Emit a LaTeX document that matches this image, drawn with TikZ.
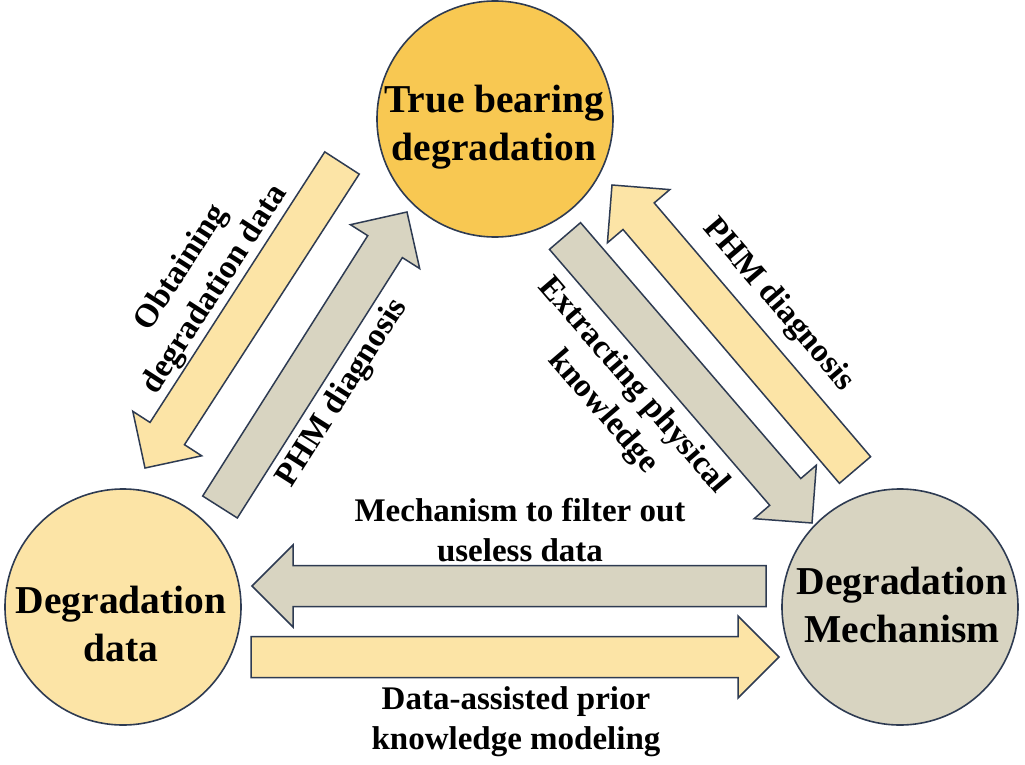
\documentclass[tikz,border=0pt]{standalone}
\usepackage{fontspec}
\setmainfont{Liberation Serif}
\usetikzlibrary{calc}
\definecolor{gold}{HTML}{F8C852}
\definecolor{lightyel}{HTML}{FCE4A6}
\definecolor{greybeige}{HTML}{D8D4C1}
\definecolor{edgecol}{HTML}{2E3B52}
% #1 style, #2 tail coordinate, #3 tip coordinate
\newcommand{\blockarrow}[3]{%
  \coordinate (bh) at ($(#3)!41pt!(#2)$);
  \draw[#1] ($(#2)!20.5pt!90:(#3)$) -- ($(bh)!20.5pt!90:(#3)$) -- ($(bh)!41pt!90:(#3)$) -- (#3)
    -- ($(bh)!41pt!-90:(#3)$) -- ($(bh)!20.5pt!-90:(#3)$) -- ($(#2)!20.5pt!-90:(#3)$) -- cycle;
}
\begin{document}
\begin{tikzpicture}[x=1pt,y=-1pt,
  ball/.style={circle, draw=edgecol, line width=1.6pt, minimum size=236pt, inner sep=0pt},
  bigtext/.style={align=center, inner sep=0pt, font=\fontsize{39.5}{48}\selectfont\bfseries},
  lbltext/.style={align=center, inner sep=0pt, font=\fontsize{33}{40}\selectfont\bfseries},
  yarrow/.style={draw=edgecol, line width=1.5pt, line join=miter, fill=lightyel},
  garrow/.style={draw=edgecol, line width=1.5pt, line join=miter, fill=greybeige}]
\useasboundingbox (0,0) rectangle (1025,765);
\fill[white] (0,0) rectangle (1025,765);

% circles
\node[ball, fill=gold] (truth) at (495,119) {};
\node[ball, fill=lightyel] (data) at (123,607) {};
\node[ball, fill=greybeige] (mech) at (900,607) {};

\node[bigtext] (truthtxt) at (494,127) {True bearing\\degradation};
\node[bigtext] (datatxt) at (121,624) {Degradation\\data};
\node[bigtext] (mechtxt) at (902,605) {Degradation\\Mechanism};

% arrow end points
\coordinate (a1t) at (342,163); \coordinate (a1h) at (145,468);
\coordinate (a2t) at (220,507); \coordinate (a2h) at (407,212);
\coordinate (a3t) at (565,236); \coordinate (a3h) at (812,523);
\coordinate (a4t) at (855,470); \coordinate (a4h) at (612,185);
\coordinate (a5t) at (766,586); \coordinate (a5h) at (252,586);
\coordinate (a6t) at (251,657); \coordinate (a6h) at (779,657);

\blockarrow{yarrow}{a1t}{a1h}
\blockarrow{garrow}{a2t}{a2h}
\blockarrow{garrow}{a3t}{a3h}
\blockarrow{yarrow}{a4t}{a4h}
\blockarrow{garrow}{a5t}{a5h}
\blockarrow{yarrow}{a6t}{a6h}

% labels
\node[lbltext, rotate=57.1] (l1) at (199,279) {Obtaining\\degradation data};
\node[lbltext, rotate=57.6] (l2) at (343,393) {PHM diagnosis};
\node[lbltext, rotate=-49.3] (l4) at (618,399) {Extracting physical\\knowledge};
\node[lbltext, rotate=-49.5] (l3) at (778,305) {PHM diagnosis};
\node[lbltext] (l5) at (520,530) {Mechanism to filter out\\useless data};
\node[lbltext] (l6) at (516,722) {Data-assisted prior\\knowledge modeling};
\end{tikzpicture}
\end{document}
